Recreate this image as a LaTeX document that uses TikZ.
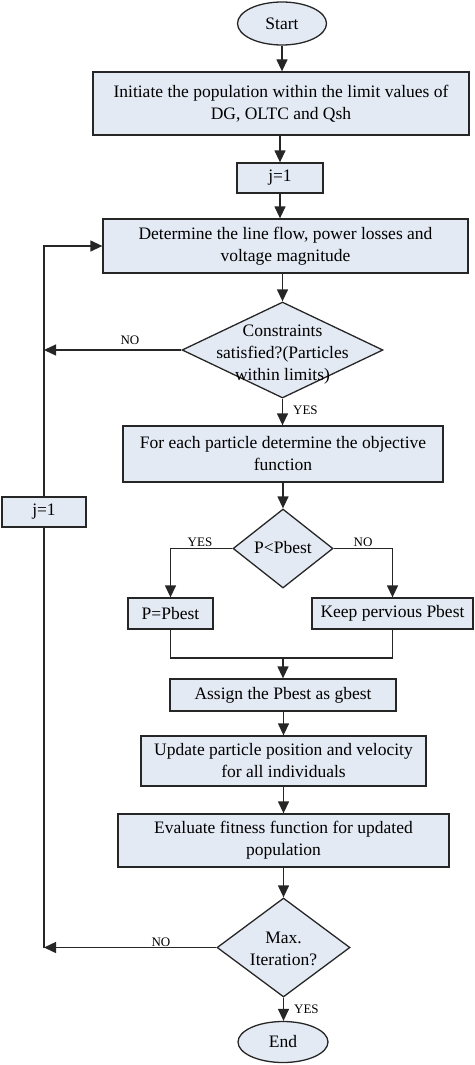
\documentclass[tikz,border=0pt]{standalone}
\usepackage{fontspec}
\setmainfont{Liberation Serif}
\usetikzlibrary{shapes.geometric,arrows.meta}
\definecolor{boxfill}{HTML}{E4EAF4}
\begin{document}
\begin{tikzpicture}[x=1pt,y=-1pt,
  every node/.style={font=\fontsize{17.5}{22}\selectfont},
  box/.style={draw=black!85,line width=1.3pt,fill=boxfill,rectangle,align=center,inner sep=0pt},
  term/.style={draw=black!85,line width=1.3pt,fill=boxfill,ellipse,inner sep=0pt},
  dia/.style={draw=black!85,line width=1.3pt,fill=boxfill,diamond,inner sep=0pt},
  lbl/.style={font=\fontsize{13}{15}\selectfont,inner sep=0pt},
  conn/.style={line width=1.3pt,draw=black!85},
  arr/.style={conn,-{Triangle[length=12pt,width=11pt]}}
]
\useasboundingbox (0,0) rectangle (474,1065);
\node[term,minimum width=89pt,minimum height=43pt] (start) at (282,23.5) {Start};
\node[box,minimum width=376pt,minimum height=63pt] (init) at (281,103.5) {Initiate the population within the limit values of\\DG, OLTC and Qsh};
\node[box,minimum width=86pt,minimum height=30pt] (j1) at (280,178) {j=1};
\node[box,minimum width=365pt,minimum height=54pt] (det) at (285.5,246) {Determine the line flow, power losses and\\voltage magnitude};
\node[dia,minimum width=201pt,minimum height=96pt] (c1) at (282.5,350) {\smash{\makebox[0pt]{\raisebox{-8pt}{\begin{tabular}{@{}c@{}}Constraints\\satisfied?(Particles\\within limits)\end{tabular}}}}};
\node[box,minimum width=320pt,minimum height=56pt] (obj) at (283,454) {For each particle determine the objective\\function};
\node[dia,minimum width=100pt,minimum height=79pt] (c2) at (283,548.5) {\smash{\makebox[0pt]{\raisebox{-5pt}{P<Pbest}}}};
\node[box,minimum width=85pt,minimum height=31pt] (pp) at (170.5,613.5) {P=Pbest};
\node[box,minimum width=161pt,minimum height=31pt] (keep) at (392.5,613.5) {Keep pervious Pbest};
\coordinate (join) at (283,658);
\node[box,minimum width=226pt,minimum height=32pt] (assign) at (283,695) {Assign the Pbest as gbest};
\node[box,minimum width=285pt,minimum height=50pt] (update) at (283.5,761) {Update particle position and velocity\\for all individuals};
\node[box,minimum width=331pt,minimum height=53pt] (eval) at (283.5,840.5) {Evaluate fitness function for updated\\population};
\node[dia,minimum width=133pt,minimum height=99pt] (c3) at (283.5,947.5) {\smash{\makebox[0pt]{\raisebox{-7pt}{\begin{tabular}{@{}c@{}}Max.\\Iteration?\end{tabular}}}}};
\node[term,minimum width=90pt,minimum height=41pt] (end) at (283,1042) {End};
\node[box,minimum width=84pt,minimum height=30pt] (jleft) at (44,512) {j=1};
\coordinate (L1) at (jleft.center |- c1.west);
\coordinate (L3) at (jleft.center |- c3.west);
% main flow
\draw[arr] (start.south) -- (start.south |- init.north);
\draw[arr] (init.south -| j1.north) -- (j1.north);
\draw[arr] (j1.south) -- (j1.south |- det.north);
\draw[arr] (c1.north |- det.south) -- (c1.north);
\draw[arr] (c1.south) -- (c1.south |- obj.north) node[lbl,pos=0.45,right=10pt] {YES};
\draw[arr] (c2.north |- obj.south) -- (c2.north);
\draw[arr] (c2.west) -| (pp.north);
\draw[arr] (c2.east) -| (keep.north);
\node[lbl] (yes2) at (200,542) {YES};
\node[lbl] (no2) at (363,542) {NO};
\draw[conn] (pp.south) |- (join) -| (keep.south);
\draw[arr] (join) -- (join |- assign.north);
\draw[arr] (assign.south -| update.north) -- (update.north);
\draw[arr] (update.south) -- (update.south |- eval.north);
\draw[arr] (c3.north |- eval.south) -- (c3.north);
\draw[arr] (c3.south) -- (c3.south |- end.north) node[lbl,pos=0.5,right=10pt] {YES};
% loop back
\draw[arr] (c1.west) -- (L1);
\node[lbl] (no1) at (130,340) {NO};
\draw[arr] (c3.west) -- (L3);
\node[lbl,anchor=south] (no3) at (161,947) {NO};
\draw[conn] (L3) -- (jleft.south);
\draw[arr] (jleft.north) |- (det.west);
\end{tikzpicture}
\end{document}
